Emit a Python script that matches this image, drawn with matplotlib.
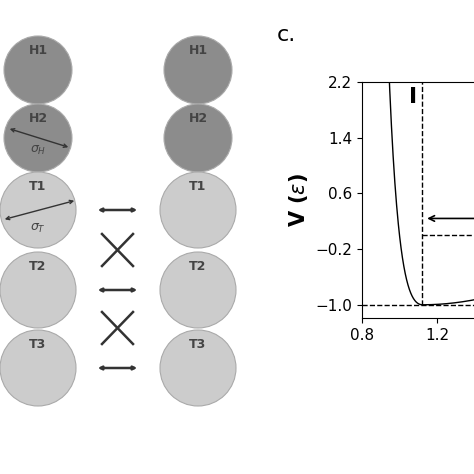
import numpy as np
import matplotlib.pyplot as plt
from matplotlib.patches import Circle

# beads: name, center y (px), radius (px), colour
bead_names = ['H1', 'H2', 'T1', 'T2', 'T3']
bead_y = [70, 138, 210, 290, 368]
bead_r = [34, 34, 38, 38, 38]
bead_col = ['#8c8c8c', '#8c8c8c', '#cccccc', '#cccccc', '#cccccc']
column_x = [38, 198]
link_y = [210, 290, 368]
cross_y = [250, 328]

r_min = 2 ** (1 / 6)
w_c = 1.6
xticks = [0.8, 1.2]
yticks = [-1.0, -0.2, 0.6, 1.4, 2.2]

fig = plt.figure(figsize=(4.74, 4.74), dpi=100)
ax0 = fig.add_axes([0, 0, 1, 1])
ax0.set_xlim(0, 474)
ax0.set_ylim(474, 0)
ax0.axis('off')

for cx in column_x:
    for name, cy, r, c in zip(bead_names, bead_y, bead_r, bead_col):
        ax0.add_patch(Circle((cx, cy), r, facecolor=c, edgecolor='#aaaaaa', lw=0.8))
        ax0.text(cx, cy - r + 14, name, ha='center', va='center', fontsize=9,
                 fontweight='bold', color='#444444')

# diameter arrows
ax0.annotate('', xy=(7, 128), xytext=(71, 148),
             arrowprops=dict(arrowstyle='<->', color='#333333', lw=1, mutation_scale=6))
ax0.text(38, 150, r'$\sigma_H$', ha='center', va='center', fontsize=9, color='#444444')
ax0.annotate('', xy=(2, 220), xytext=(77, 200),
             arrowprops=dict(arrowstyle='<->', color='#333333', lw=1, mutation_scale=6))
ax0.text(38, 228, r'$\sigma_T$', ha='center', va='center', fontsize=9, color='#444444')

for y in link_y:
    ax0.annotate('', xy=(95, y), xytext=(140, y),
                 arrowprops=dict(arrowstyle='<->', color='#333333', lw=1.8, mutation_scale=5))
for y in cross_y:
    ax0.plot([102, 133], [y - 16, y + 16], color='#333333', lw=1.8)
    ax0.plot([102, 133], [y + 16, y - 16], color='#333333', lw=1.8)

fig.text(277, 474 - 35, 'c.', fontsize=16, va='center', transform=None)

# potential plot, extends past the right edge
left, bottom = 362 / 474, (474 - 318) / 474
ax = fig.add_axes([left, bottom, 225 / 474, 236 / 474])
r = np.linspace(0.9, 2.0, 600)
v = np.where(r < r_min, 4 * (r ** -12 - r ** -6),
             -np.cos(np.pi * (r - r_min) / (2 * w_c)) ** 2)
ax.plot(r, v, 'k-', lw=1)
ax.axhline(-1.0, color='k', ls='--', lw=1)
ax.plot([r_min, r_min], [-1.0, 2.2], 'k--', lw=1)
ax.plot([r_min, 2.0], [0.0, 0.0], 'k--', lw=1)
ax.annotate('', xy=(r_min + 0.01, 0.24), xytext=(1.5, 0.24),
            arrowprops=dict(arrowstyle='->', color='k', lw=1.2))
ax.text(1.07, 1.98, 'I', fontsize=16, fontweight='bold', ha='center', va='center')
ax.set_xlim(0.8, 2.0)
ax.set_ylim(-1.19, 2.2)
ax.set_xticks(xticks)
ax.set_yticks(yticks)
ax.tick_params(labelsize=11)
ax.set_ylabel(r'V ($\varepsilon$)', fontsize=15, fontweight='bold')

fig.savefig('out.png', dpi=100)
